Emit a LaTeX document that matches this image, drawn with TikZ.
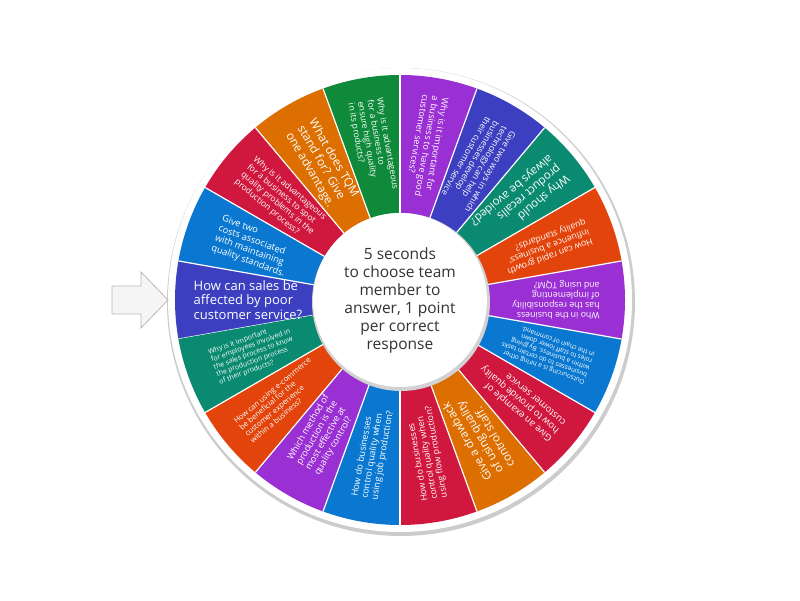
\documentclass[tikz,border=0pt]{standalone}
\usepackage{fontspec}
\setmainfont{Open Sans}
\usetikzlibrary{calc}
\begin{document}
\begin{tikzpicture}[x=1pt,y=1pt,
  lab/.style={text=white,align=left,inner sep=0pt}]
\useasboundingbox (0,0) rectangle (800,600);
\definecolor{cInd}{HTML}{3B3FC0}
\definecolor{cBlu}{HTML}{0A78D0}
\definecolor{cRed}{HTML}{D0183F}
\definecolor{cOra}{HTML}{DD6E00}
\definecolor{cGrn}{HTML}{0E8A3A}
\definecolor{cPur}{HTML}{9A2FD3}
\definecolor{cTea}{HTML}{0A8A70}
\definecolor{cOrr}{HTML}{E3440B}
\coordinate (c) at (400,300);
\fill[gray!40] (401,298) circle (234);
\fill[white] (c) circle (232);
\foreach \i/\col in {1/cInd,2/cBlu,3/cRed,4/cOra,5/cGrn,6/cPur,7/cInd,8/cTea,9/cOrr,10/cPur,11/cBlu,12/cRed,13/cOra,14/cRed,15/cBlu,16/cPur,17/cOrr,18/cTea}{
  \pgfmathsetmacro\t{180-20*(\i-1)}
  \fill[\col] (c) -- ++(\t-10:225) arc[start angle=\t-10,end angle=\t+10,radius=225] -- cycle;
  \draw[white,line width=1.2] (c) -- ++(\t+10:225);
}
\newcommand\seg[4][156]{\pgfmathsetmacro\bsk{#3*1.12}\node[lab,font=\fontsize{#3}{\bsk}\selectfont,rotate=-20*(#2-1)] (s#2) at ($(c)+({180-20*(#2-1)}:#1)$) {#4};}
\seg[152]{1}{13}{How can sales be\\affected by poor\\customer service?}
\seg{2}{9.3}{Give two\\costs associated\\with maintaining\\quality standards.}
\seg{3}{8.6}{Why is it advantageous\\for a business to spot\\quality problems in the\\production process?}
\seg{4}{11.8}{What does TQM\\stand for? Give\\one advantage.}
\seg{5}{8.6}{Why is it advantageous\\for a business to\\ensure high quality\\in its products?}
\seg{6}{9}{Why is it important for\\a business to have good\\customer services?}
\seg{7}{8.6}{Give two ways in which\\technology can help\\businesses develop\\their customer service}
\seg{8}{11.5}{Why should\\product recalls\\always be avoided?}
\seg{9}{8.8}{How can rapid growth\\influence a business'\\quality standards?}
\seg{10}{8.8}{Who in the business\\has the responsibility\\of implementing\\and using TQM?}
\seg{11}{6.5}{Outsourcing is a hiring other\\businesses to do certain tasks\\within a business. By giving\\roles to staff lower down\\in the chain of command.}
\seg{12}{9.5}{Give an example of\\how to provide quality\\customer service}
\seg{13}{11.5}{Give a drawback\\of using quality\\control staff.}
\seg{14}{8.8}{How do businesses\\control quality when\\using flow production?}
\seg{15}{9}{How do businesses\\control quality when\\using job production?}
\seg{16}{9.2}{Which method of\\production is the\\most effective at\\quality control?}
\seg{17}{7.6}{How can using e-commerce\\be beneficial for the\\customer experience\\within a business?}
\seg{18}{7}{Why is it important\\for employees involved in\\the sales process to know\\the production process\\of their products?}
\fill[gray!35] (401,298) circle (89);
\fill[white] (c) circle (87);
\node[align=center,text=black!80,font=\fontsize{15.5}{18}\selectfont] (ctr) at (c) {5 seconds\\to choose team\\member to\\answer, 1 point\\per correct\\response};
\draw[gray!55,fill=gray!8,line width=0.8] (112,314) -- (141,314) -- (141,328) -- (168,300) -- (141,272) -- (141,286) -- (112,286) -- cycle;
\end{tikzpicture}
\end{document}
